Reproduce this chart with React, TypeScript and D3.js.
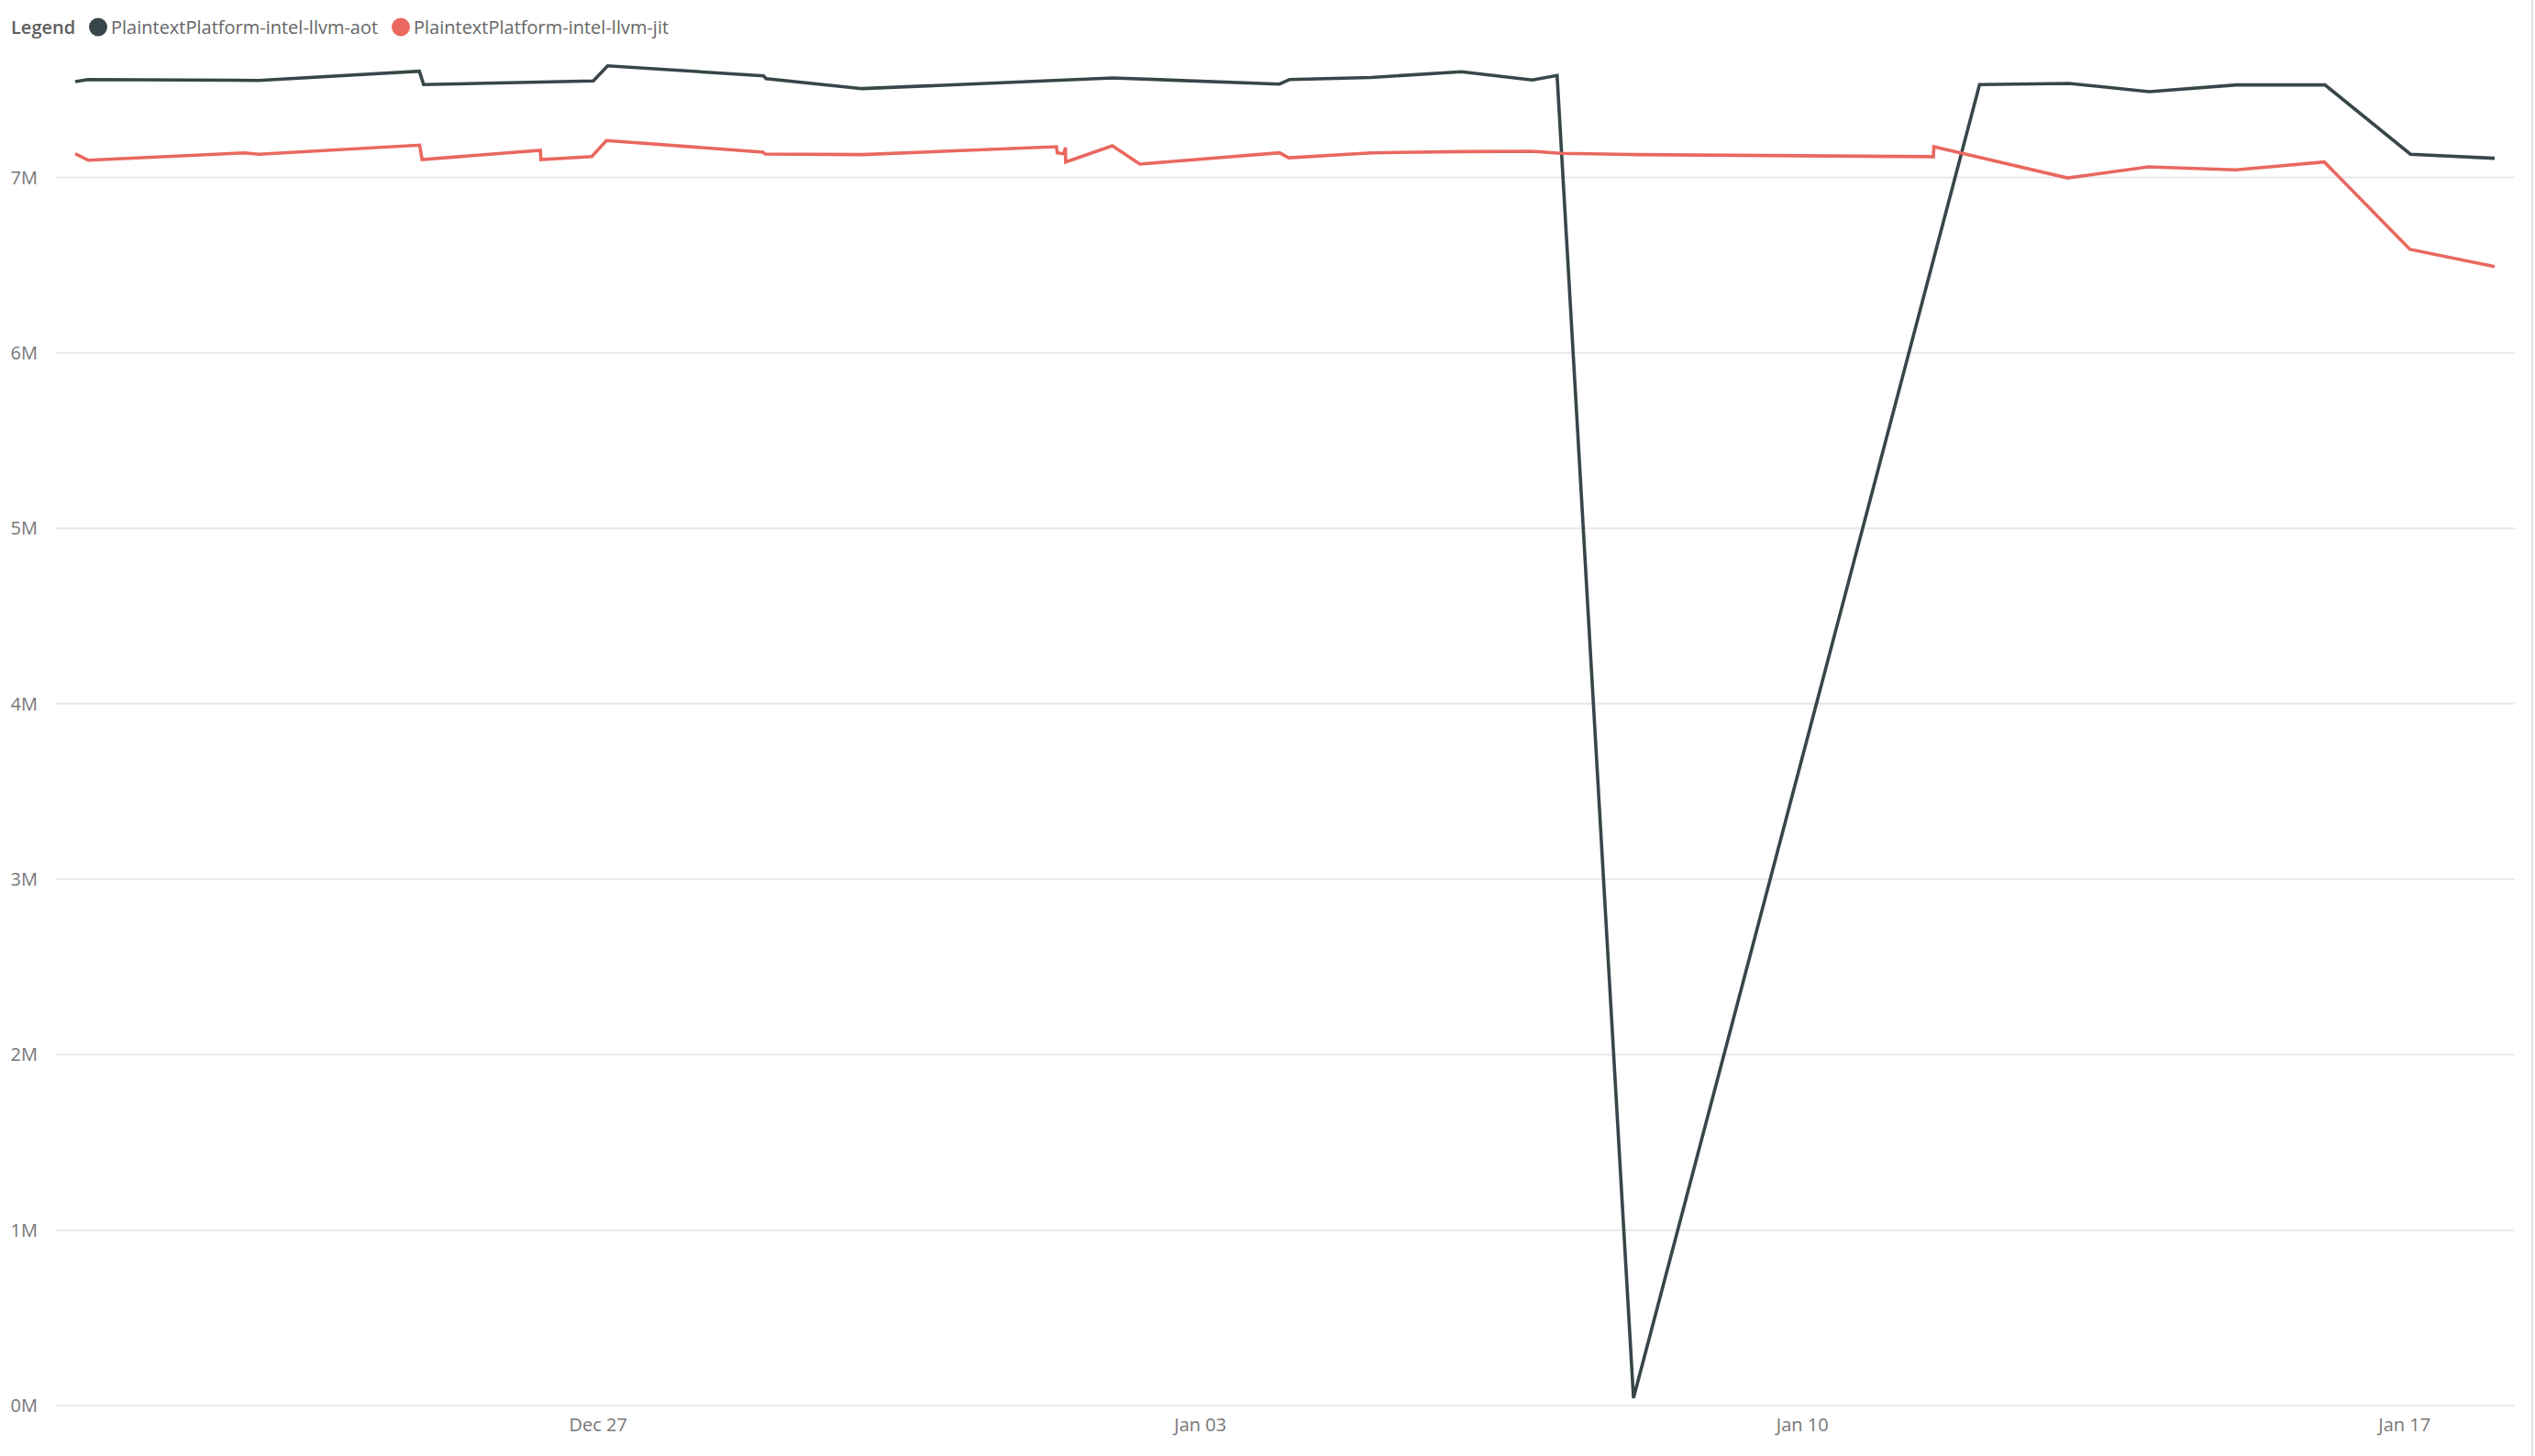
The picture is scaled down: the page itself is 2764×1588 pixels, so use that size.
import React, { useEffect } from 'react';
import * as d3 from 'd3';

// Requests per second (millions)
const aotDates = [
  '2020-12-20T22:05', '2020-12-21T01:44', '2020-12-23T01:15', '2020-12-24T22:06', '2020-12-24T23:18',
  '2020-12-26T22:39', '2020-12-27T02:38', '2020-12-28T22:08', '2020-12-28T22:50', '2020-12-30T01:41',
  '2021-01-01T23:37', '2021-01-03T22:06', '2021-01-04T00:55', '2021-01-04T23:41', '2021-01-06T00:50',
  '2021-01-06T20:38', '2021-01-07T03:33', '2021-01-08T00:52', '2021-01-12T01:25', '2021-01-13T02:24',
  '2021-01-14T00:45', '2021-01-15T01:03', '2021-01-16T01:48', '2021-01-17T01:39', '2021-01-18T01:08',
];
const aotValues = [
  7.546, 7.558, 7.553, 7.605, 7.529,
  7.550, 7.636, 7.579, 7.563, 7.506,
  7.567, 7.532, 7.558, 7.570, 7.602,
  7.555, 7.581, 0.043, 7.529, 7.536,
  7.489, 7.527, 7.527, 7.132, 7.109,
];

const jitDates = [
  '2020-12-20T22:05', '2020-12-21T01:44', '2020-12-22T21:25', '2020-12-23T01:15', '2020-12-24T22:11',
  '2020-12-24T22:52', '2020-12-26T07:53', '2020-12-26T08:00', '2020-12-26T22:13', '2020-12-27T02:18',
  '2020-12-28T21:59', '2020-12-28T22:34', '2020-12-30T01:41', '2021-01-01T07:51', '2021-01-01T08:07',
  '2021-01-01T09:59', '2021-01-01T10:22', '2021-01-01T10:26', '2021-01-01T23:28', '2021-01-02T07:08',
  '2021-01-03T22:06', '2021-01-04T00:40', '2021-01-04T23:41', '2021-01-06T00:50', '2021-01-06T20:38',
  '2021-01-07T04:35', '2021-01-08T01:28', '2021-01-11T12:32', '2021-01-11T12:40', '2021-01-13T01:58',
  '2021-01-14T00:29', '2021-01-15T00:53', '2021-01-16T01:36', '2021-01-17T01:30', '2021-01-18T01:08',
];
const jitValues = [
  7.135, 7.098, 7.140, 7.132, 7.184,
  7.102, 7.154, 7.102, 7.119, 7.210,
  7.144, 7.133, 7.130, 7.175, 7.140,
  7.135, 7.171, 7.088, 7.180, 7.076,
  7.140, 7.112, 7.140, 7.147, 7.149,
  7.137, 7.130, 7.118, 7.175, 6.997,
  7.060, 7.043, 7.088, 6.590, 6.492,
];

const xTickDates = ['2020-12-27T00:00', '2021-01-03T00:00', '2021-01-10T00:00', '2021-01-17T00:00'];
const yTicks = [0, 1, 2, 3, 4, 5, 6, 7];

const seriesNames = ['PlaintextPlatform-intel-llvm-aot', 'PlaintextPlatform-intel-llvm-jit'];
const seriesColors = ['#374649', '#E9685F'];

const W = 2764;
const H = 1588;
const FONT = '"Segoe UI", "Open Sans", sans-serif';

const parse = d3.timeParse('%Y-%m-%dT%H:%M');

export default function App() {
  useEffect(() => {
    document.body.style.margin = '0';
    document.body.style.overflow = 'hidden';
  }, []);

  const aot = aotDates.map((d, i) => ({ date: parse(d)!, value: aotValues[i] }));
  const jit = jitDates.map((d, i) => ({ date: parse(d)!, value: jitValues[i] }));
  const series = [aot, jit];

  const allDates = [...aot, ...jit].map(d => d.date);
  const x = d3.scaleTime()
    .domain(d3.extent(allDates) as [Date, Date])
    .range([82, 2720]);

  const y = d3.scaleLinear()
    .domain([0, 7])
    .range([1533, 193.5]);

  const gridLeft = 61;
  const gridRight = 2742;

  const line = d3.line<{ date: Date; value: number }>()
    .x(d => x(d.date))
    .y(d => y(d.value));

  return (
    <svg width={W} height={H} style={{ display: 'block', background: '#fff' }} fontFamily={FONT}>
      {/* legend */}
      <g>
        <text x={12} y={36.5} fontSize={20} fontWeight={600} fill="#605E5C">Legend</text>
        <circle cx={107} cy={29.5} r={10} fill={seriesColors[0]} />
        <text x={121} y={36.5} fontSize={20} fill="#666666">{seriesNames[0]}</text>
        <circle cx={437} cy={29.5} r={10} fill={seriesColors[1]} />
        <text x={451} y={36.5} fontSize={20} fill="#666666">{seriesNames[1]}</text>
      </g>

      {/* gridlines + y labels */}
      <g>
        {yTicks.map(t => (
          <g key={t}>
            <line x1={gridLeft} x2={gridRight} y1={y(t)} y2={y(t)} stroke="#E8E8E8" strokeWidth={2} />
            <text x={41} y={y(t) + 7} textAnchor="end" fontSize={20} fill="#777777">{`${t}M`}</text>
          </g>
        ))}
      </g>

      {/* x labels */}
      <g>
        {xTickDates.map(s => {
          const d = parse(s)!;
          return (
            <text key={s} x={x(d)} y={1561} textAnchor="middle" fontSize={20} fill="#777777">
              {d3.timeFormat('%b %d')(d)}
            </text>
          );
        })}
      </g>

      {/* series lines */}
      {series.map((s, i) => (
        <path key={i} d={line(s) ?? ''} fill="none" stroke={seriesColors[i]} strokeWidth={3.6} />
      ))}

      {/* right border */}
      <line x1={2761} x2={2761} y1={0} y2={H} stroke="#E1E1E1" strokeWidth={2} />
    </svg>
  );
}
